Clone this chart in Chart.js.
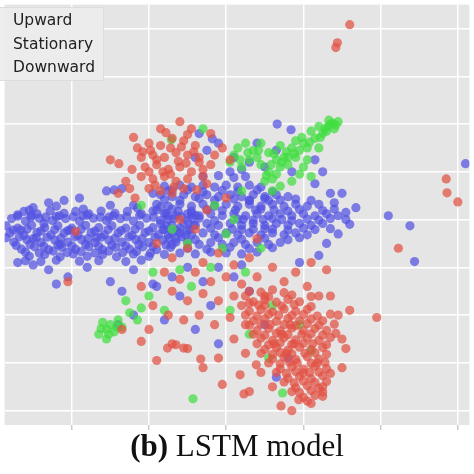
<!DOCTYPE html>
<html><head><meta charset="utf-8">
<script src="https://cdn.jsdelivr.net/npm/chart.js@4"></script>
<style>
body{margin:0;background:#fff;width:474px;height:474px;overflow:hidden;position:relative}
#wrap{position:absolute;left:0;top:0;width:474px;height:430px}
#leg{position:absolute;left:0;top:7px;width:104px;height:74px;background:rgba(236,236,236,0.9);border:1px solid #ddd;border-left:none;font-family:"DejaVu Sans";font-size:15.5px;color:#222;line-height:23.5px;padding:1px 0 0 13px;box-sizing:border-box}
#cap{position:absolute;left:0;width:474px;top:428px;text-align:center;font-family:"Liberation Serif","DejaVu Serif";font-size:31px;color:#111}
</style></head><body>
<div id="wrap"><canvas id="c" width="474" height="430"></canvas></div>
<div id="leg"></div>
<div id="cap"><b>(b)</b> LSTM model</div>
<script>
const seriesNames=["Upward","Stationary","Downward"];
const xTicks=[-2,-1,0,1,2,3];
const yTicks=[-4,-3,-2,-1,0,1,2,3,4];
// flat [x,y,...] pairs
const redPts=[
-1.15,1.5,-1.0,1.6,-0.85,1.55,-0.7,1.7,-0.55,1.65,-0.4,1.55,-1.1,1.3,-0.95,1.35,-0.8,1.3,-0.65,1.4,-0.5,1.35,-0.35,1.3,
-1.05,1.1,-0.9,1.15,-0.75,1.05,-0.6,1.1,-0.45,1.0,-0.3,1.05,-1.1,0.9,-0.95,0.85,-0.8,0.9,-0.65,0.8,-0.5,0.85,-1.0,0.65,
-0.85,0.6,-0.7,0.55,-0.55,0.65,-1.3,0.8,-1.4,0.55,-1.5,1.25,-0.2,1.8,-0.05,1.5,0.05,1.25,-0.25,0.75,-1.39,1.17,-0.6,2.05,
-0.45,1.9,-0.85,1.9,-1.2,1.72,-0.98,1.45,-0.62,1.22,-0.72,0.95,-1.18,0.45,-0.38,0.62,
-1.08,1.42,-0.9,1.25,-0.72,1.5,-0.58,1.52,-0.42,1.42,-1.0,1.0,-0.82,1.0,-0.68,0.68,-0.52,1.18,-0.35,1.2,-0.2,1.15,-0.15,1.35,
-0.3,0.9,-0.92,0.72,-1.22,1.05,-1.25,0.65,-0.78,1.82,-0.5,1.78,
-0.9,-0.5,-0.7,-0.8,-0.5,-0.6,-0.3,-0.9,-0.1,-0.7,0.1,-0.95,0.3,-0.8,-0.8,-1.1,-0.6,-1.25,-0.4,-1.1,-0.2,-1.3,0.0,-1.2,
0.2,-1.35,0.4,-1.2,-0.7,-1.5,-0.5,-1.7,-0.3,-1.55,-0.1,-1.7,0.1,-1.6,0.3,-1.75,0.5,-1.6,-0.95,-1.8,-0.75,-2.0,-0.55,-2.1,
-0.35,-2.0,-0.15,-2.2,0.05,-2.05,0.25,-2.2,-1.1,-1.4,-1.0,-2.3,0.6,-1.0,0.75,-1.3,0.9,-1.1,1.1,-0.9,1.3,-1.05,-0.25,0.2,
-0.6,0.0,0.0,0.45,0.4,-0.4,-0.4,-0.2,
0.3,-1.5,0.45,-1.52,0.6,-1.47,0.75,-1.53,0.35,-1.72,0.5,-1.68,0.65,-1.73,0.8,-1.67,0.95,-1.72,
0.3,-1.92,0.45,-1.88,0.6,-1.93,0.75,-1.87,0.9,-1.92,1.05,-1.88,0.35,-2.12,0.5,-2.08,0.65,-2.13,0.8,-2.07,0.95,-2.12,1.1,-2.08,1.25,-2.12,
0.4,-2.32,0.55,-2.28,0.7,-2.33,0.85,-2.27,1.0,-2.32,1.15,-2.28,1.3,-2.32,0.45,-2.48,0.6,-2.53,0.75,-2.47,0.9,-2.52,1.05,-2.48,1.2,-2.53,1.35,-2.47,
0.5,-2.72,0.65,-2.68,0.8,-2.73,0.95,-2.67,1.1,-2.72,1.25,-2.68,0.6,-2.92,0.75,-2.88,0.9,-2.93,1.05,-2.87,1.2,-2.92,
0.7,-3.12,0.85,-3.08,1.0,-3.13,1.15,-3.07,1.3,-3.12,0.8,-3.32,0.95,-3.28,1.1,-3.33,1.25,-3.27,0.9,-3.52,1.05,-3.48,1.2,-3.53,1.0,-3.72,1.15,-3.68,
0.57,-2.2,0.72,-2.4,0.88,-2.6,1.02,-2.8,1.18,-3.0,0.5,-1.8,0.68,-2.0,0.83,-2.2,0.98,-2.4,1.12,-2.6,0.62,-2.6,0.78,-2.8,0.92,-3.0,1.08,-3.2,
0.25,-1.6,0.55,-1.62,0.85,-1.58,1.1,-1.61,0.2,-1.8,0.42,-1.79,0.72,-1.81,0.88,-1.78,1.1,-1.82,
0.25,-2.0,0.4,-2.02,0.55,-1.98,0.85,-2.01,1.0,-1.99,1.18,-2.02,1.35,-1.98,0.3,-2.21,0.45,-2.19,0.75,-2.2,0.9,-2.22,1.05,-2.18,1.2,-2.21,1.4,-2.19,
0.35,-2.4,0.5,-2.42,0.65,-2.38,0.8,-2.41,1.1,-2.39,1.25,-2.42,1.42,-2.38,0.4,-2.6,0.55,-2.62,0.7,-2.58,0.85,-2.61,1.0,-2.59,1.3,-2.62,
0.45,-2.8,0.6,-2.82,0.7,-2.78,0.85,-2.81,1.15,-2.79,1.3,-2.82,0.55,-3.0,0.7,-3.02,0.82,-2.98,1.1,-3.01,1.28,-2.99,
0.65,-3.2,0.78,-3.22,0.9,-3.18,1.0,-3.21,1.2,-3.19,1.35,-3.22,0.75,-3.4,0.88,-3.42,1.0,-3.38,1.15,-3.41,1.3,-3.39,
0.85,-3.6,0.95,-3.62,1.1,-3.58,1.25,-3.61,1.05,-3.8,1.1,-3.85,
1.45,-2.0,1.5,-2.5,1.6,-1.9,1.95,-2.05,1.35,-1.6,1.25,-3.5,0.6,-3.5,0.45,-3.2,0.25,-2.8,0.1,-2.5,-0.1,-2.9,-0.3,-3.1,-0.5,-2.7,
-0.7,-2.6,-0.9,-2.95,-1.1,-2.55,-1.35,-2.3,0.3,-3.6,0.85,-4.0,1.25,-3.7,-0.05,-3.45,1.5,-3.1,1.55,-2.7,1.05,-1.4,1.2,-1.6,
0.23,-3.65,0.71,-3.9,0.94,-3.77,0.39,-3.04,0.18,-3.25,-0.33,-2.92,-0.55,-2.69,-0.76,-2.69,-0.65,-2.62,
1.6,4.08,1.44,3.7,1.42,3.6,2.85,0.85,2.86,0.56,3.0,0.37,2.23,-0.6,-2.05,-1.3,-1.95,-0.25
];
const greenPts=[
1.35,2.0,1.4,1.9,1.3,1.85,1.45,2.05,1.2,1.95,1.25,1.8,1.15,1.7,1.1,1.85,1.0,1.6,0.95,1.45,1.05,1.5,0.9,1.65,0.85,1.5,
0.75,1.3,0.8,1.15,0.7,1.1,0.65,1.25,0.55,1.0,0.6,0.85,0.5,0.8,0.45,1.15,0.4,1.3,0.3,1.25,0.2,1.1,0.1,1.35,0.15,1.5,0.05,1.2,
0.35,1.45,0.55,1.4,0.7,1.55,0.9,1.3,1.0,1.1,0.95,0.95,1.1,0.9,0.85,0.8,0.7,0.7,0.6,0.6,1.05,1.25,1.2,1.5,0.25,1.6,0.45,1.6,
1.32,1.95,1.38,2.02,1.28,1.9,0.62,1.38,0.78,1.42,
1.22,1.72,1.08,1.62,0.98,1.72,0.88,1.38,0.72,1.2,0.58,1.15,0.52,0.92,0.65,0.95,0.8,1.3,0.42,1.45,0.28,1.4,0.18,1.25,1.33,2.08,1.42,1.98,
-1.6,-2.15,-1.55,-2.3,-1.5,-2.2,-1.45,-2.35,-1.4,-2.1,-1.65,-2.4,-1.55,-2.5,-1.35,-2.25,-1.25,-1.95,-1.15,-2.1,-1.1,-1.85,-1.3,-1.7,-1.0,-1.6,
-1.52,-2.4,-1.42,-2.25,-1.62,-2.28,
-0.3,1.9,-0.15,0.3,0.1,0.0,-0.5,-0.5,-0.2,-1.0,0.0,-0.3,0.2,0.6,-0.7,-0.2,-0.45,-1.4,0.05,-1.9,0.3,-2.4,0.55,-2.9,-0.8,-1.9,
-0.95,-1.1,0.45,-0.6,-1.1,0.3,-0.71,1.67,-0.43,-3.75,0.73,-3.63,-0.6,-1.05,-0.05,-0.6,0.25,-1.1,0.6,-1.8,0.95,-2.2,1.1,-2.75
];
const bluePts=[
-2.3,0.35,-2.1,0.4,-1.9,0.45,-1.55,0.6,-1.45,0.62,-1.35,0.65,-0.95,0.55,-0.8,0.7,-0.7,0.62,-1.2,0.3,-2.55,0.2,-2.7,0.1,
-2.62,0.17,-2.45,0.12,-2.28,0.18,-2.1,0.13,-1.95,0.17,-1.78,0.12,-1.62,0.18,-1.44,0.13,-1.28,0.17,-1.1,0.12,-0.95,0.18,-0.78,0.13,-0.62,0.17,-0.45,0.12,
-2.78,0.02,-2.6,-0.03,-2.42,0.03,-2.25,-0.02,-2.08,0.02,-1.9,-0.03,-1.72,0.03,-1.55,-0.02,-1.37,0.02,-1.2,-0.03,-1.03,0.03,-0.85,-0.02,-0.68,0.02,-0.5,-0.03,-0.35,0.03,
-2.85,-0.13,-2.7,-0.18,-2.52,-0.12,-2.35,-0.17,-2.18,-0.13,-2.0,-0.18,-1.82,-0.12,-1.65,-0.17,-1.48,-0.13,-1.3,-0.18,-1.12,-0.12,-0.95,-0.17,-0.77,-0.13,-0.6,-0.18,-0.42,-0.12,
-2.8,-0.28,-2.62,-0.33,-2.45,-0.27,-2.27,-0.32,-2.1,-0.28,-1.92,-0.33,-1.75,-0.27,-1.58,-0.32,-1.4,-0.28,-1.22,-0.33,-1.05,-0.27,-0.88,-0.32,-0.7,-0.28,-0.52,-0.33,
-2.75,-0.47,-2.58,-0.42,-2.4,-0.48,-2.22,-0.43,-2.05,-0.47,-1.87,-0.42,-1.7,-0.48,-1.52,-0.43,-1.35,-0.47,-1.17,-0.42,-1.0,-0.48,-0.82,-0.43,-0.65,-0.47,
-2.65,-0.62,-2.48,-0.57,-2.3,-0.63,-2.13,-0.58,-1.95,-0.62,-1.78,-0.57,-1.6,-0.63,-1.43,-0.58,-1.25,-0.62,-1.08,-0.57,-0.9,-0.63,-0.72,-0.58,
-2.55,-0.77,-2.35,-0.73,-2.15,-0.78,-1.98,-0.72,-1.8,-0.77,-1.6,-0.73,-1.42,-0.78,-1.2,-0.72,-1.0,-0.77,-0.8,-0.73,
-2.5,-0.95,-2.3,-1.05,-2.05,-1.2,-1.8,-1.0,-1.5,-1.3,-1.2,-1.05,-0.95,-1.35,-2.7,-0.9,-2.2,-1.35,-1.35,-1.5,
-2.53,0.05,-2.36,-0.08,-2.2,0.06,-2.02,-0.22,-1.86,0.08,-2.46,-0.38,-2.66,-0.22,-2.15,-0.52,-1.68,-0.38,-1.52,0.05,
-2.5,0.25,-2.2,0.28,-1.85,0.22,-1.5,0.3,-1.15,0.24,-0.85,0.27,
-2.7,0.07,-2.52,0.09,-2.34,0.05,-2.16,0.08,-1.98,0.06,-1.8,0.09,-1.63,0.05,-1.46,0.08,-1.29,0.06,-1.12,0.09,-0.94,0.05,-0.76,0.08,-0.58,0.06,-0.4,0.09,
-2.76,-0.22,-2.58,-0.2,-2.4,-0.24,-2.22,-0.21,-2.05,-0.23,-1.88,-0.2,-1.7,-0.24,-1.53,-0.21,-1.36,-0.23,-1.18,-0.2,-1.0,-0.24,-0.82,-0.21,-0.64,-0.23,-0.47,-0.2,
-2.85,-0.38,-2.68,-0.36,-2.5,-0.4,-2.32,-0.37,-2.14,-0.39,-1.96,-0.36,-1.79,-0.4,-1.62,-0.37,-1.44,-0.39,-1.26,-0.36,-1.09,-0.4,-0.92,-0.37,-0.74,-0.39,-0.57,-0.36,
-2.72,-0.54,-2.54,-0.52,-2.36,-0.56,-2.18,-0.53,-2.0,-0.55,-1.82,-0.52,-1.65,-0.56,-1.48,-0.53,-1.3,-0.55,-1.13,-0.52,-0.95,-0.56,-0.78,-0.53,
-2.6,-0.68,-2.42,-0.7,-2.24,-0.66,-2.06,-0.69,-1.88,-0.67,-1.7,-0.7,-1.52,-0.66,-1.34,-0.69,-1.16,-0.67,-0.98,-0.7,
-2.6,-0.86,-2.4,-0.88,-2.2,-0.85,-1.9,-0.87,-1.65,-0.86,-1.3,-0.88,-1.1,-0.85,
-0.3,0.9,-0.1,0.92,0.1,0.88,0.25,0.9,-0.6,0.72,-0.45,0.68,-0.3,0.72,-0.15,0.68,0.0,0.72,0.15,0.68,0.3,0.72,0.45,0.68,
-0.85,0.52,-0.7,0.48,-0.55,0.52,-0.4,0.48,-0.25,0.52,-0.1,0.48,0.05,0.52,0.2,0.48,0.35,0.52,0.5,0.48,0.65,0.52,0.8,0.48,
-0.9,0.32,-0.75,0.28,-0.6,0.32,-0.45,0.28,-0.3,0.32,-0.15,0.28,0.0,0.32,0.15,0.28,0.3,0.32,0.45,0.28,0.6,0.32,0.75,0.28,0.9,0.32,1.05,0.28,1.2,0.32,
-0.8,0.12,-0.65,0.08,-0.5,0.12,-0.35,0.08,-0.2,0.12,-0.05,0.08,0.1,0.12,0.25,0.08,0.4,0.12,0.55,0.08,0.7,0.12,0.85,0.08,1.0,0.12,1.15,0.08,1.3,0.12,1.45,0.08,
-0.85,-0.08,-0.7,-0.12,-0.55,-0.08,-0.4,-0.12,-0.25,-0.08,-0.1,-0.12,0.05,-0.08,0.2,-0.12,0.35,-0.08,0.5,-0.12,0.65,-0.08,0.8,-0.12,0.95,-0.08,1.1,-0.12,1.25,-0.08,
-0.75,-0.32,-0.6,-0.28,-0.45,-0.32,-0.3,-0.28,-0.15,-0.32,0.0,-0.28,0.15,-0.32,0.3,-0.28,0.45,-0.32,0.6,-0.28,0.75,-0.32,0.9,-0.28,1.05,-0.32,
-0.7,-0.52,-0.5,-0.48,-0.35,-0.52,-0.2,-0.48,-0.05,-0.52,0.1,-0.48,0.25,-0.52,0.4,-0.48,0.55,-0.52,0.7,-0.48,
-0.6,-0.7,-0.4,-0.72,-0.2,-0.68,0.0,-0.7,0.2,-0.72,0.4,-0.68,
0.12,0.2,0.38,0.2,0.62,0.2,0.22,0.0,0.48,0.0,0.72,0.0,0.3,0.4,0.55,0.4,0.08,-0.2,0.35,-0.2,0.6,-0.2,
-0.75,0.6,-0.5,0.62,-0.3,0.58,-0.05,0.61,0.15,0.59,0.4,0.62,0.6,0.58,
-0.8,0.42,-0.6,0.4,-0.35,0.44,-0.15,0.41,0.1,0.43,0.3,0.4,0.5,0.44,0.7,0.41,0.9,0.43,1.1,0.4,
-0.9,0.2,-0.7,0.22,-0.45,0.18,-0.25,0.21,-0.05,0.19,0.45,0.22,0.8,0.18,0.95,0.21,1.25,0.19,1.4,0.22,
-0.75,0.0,-0.45,0.02,-0.15,-0.02,0.15,0.01,0.35,-0.01,0.6,0.02,0.85,-0.02,1.05,0.01,1.2,-0.01,1.35,0.02,1.55,0.0,
-0.8,-0.2,-0.5,-0.22,-0.2,-0.18,0.2,-0.21,0.5,-0.19,0.8,-0.22,1.0,-0.18,1.15,-0.21,1.35,-0.19,
-0.65,-0.4,-0.4,-0.42,-0.1,-0.38,0.2,-0.41,0.5,-0.39,0.8,-0.42,0.95,-0.38,
-0.5,-0.6,-0.25,-0.62,0.05,-0.58,0.3,-0.61,0.6,-0.59,
-0.5,-1.0,-0.3,-1.3,-0.6,-1.6,-0.2,-1.8,-0.8,-2.1,-0.4,-2.3,0.1,-1.2,0.3,-1.5,-0.1,-2.6,0.8,-2.9,0.5,-2.2,-1.2,-2.0,-1.4,-2.2,0.65,-3.3,
-0.9,-1.4,-0.1,-1.0,0.2,-0.95,-0.7,-1.2,
1.4,0.35,1.55,0.15,1.6,-0.1,1.45,-0.3,1.3,-0.5,1.2,-0.75,0.95,-0.9,1.15,0.75,1.35,0.55,1.25,1.0,1.68,0.25,1.5,0.55,
0.1,1.3,0.3,1.2,0.5,1.1,0.65,1.45,0.4,1.6,0.66,2.0,0.84,1.88,-0.1,1.6,-0.25,1.45,-0.4,1.3,-0.18,1.69,-0.35,1.8,
0.2,1.05,0.05,1.0,0.85,1.0,1.15,1.25,
3.1,1.17,2.1,0.08,2.38,-0.13,2.44,-0.88
];
function pts(a){const o=[];for(let i=0;i<a.length;i+=2)o.push({x:a[i],y:a[i+1]});return o;}
document.getElementById('leg').innerHTML=seriesNames.join('<br>');
new Chart(document.getElementById('c'),{
 type:'scatter',
 data:{datasets:[
  {label:seriesNames[2],data:pts(redPts),backgroundColor:'rgba(226,80,66,0.72)',borderWidth:0,pointRadius:4.6},
  {label:seriesNames[0],data:pts(greenPts),backgroundColor:'rgba(64,222,64,0.72)',borderWidth:0,pointRadius:4.6},
  {label:seriesNames[1],data:pts(bluePts),backgroundColor:'rgba(82,82,226,0.72)',borderWidth:0,pointRadius:4.6}
 ]},
 options:{responsive:false,animation:false,devicePixelRatio:1,
  layout:{padding:0},
  plugins:{legend:{display:false},tooltip:{enabled:false}},
  scales:{
   x:{type:'linear',min:-2.87,max:3.15,afterBuildTicks:s=>{s.ticks=xTicks.map(v=>({value:v}));},
      ticks:{display:false},border:{display:false},grid:{color:'#ffffff',lineWidth:1.5,tickColor:'#cccccc',tickLength:5}},
   y:{type:'linear',min:-4.3,max:4.5,afterBuildTicks:s=>{s.ticks=yTicks.map(v=>({value:v}));},
      ticks:{display:false},border:{display:false},grid:{color:'#ffffff',lineWidth:1.5,drawTicks:false}}
  }
 },
 plugins:[{id:'bg',beforeDraw(c){const a=c.chartArea,x=c.ctx;x.save();x.fillStyle='#e5e5e5';x.fillRect(a.left,a.top,a.right-a.left,a.bottom-a.top);x.restore();}}]
});
</script>
</body></html>
